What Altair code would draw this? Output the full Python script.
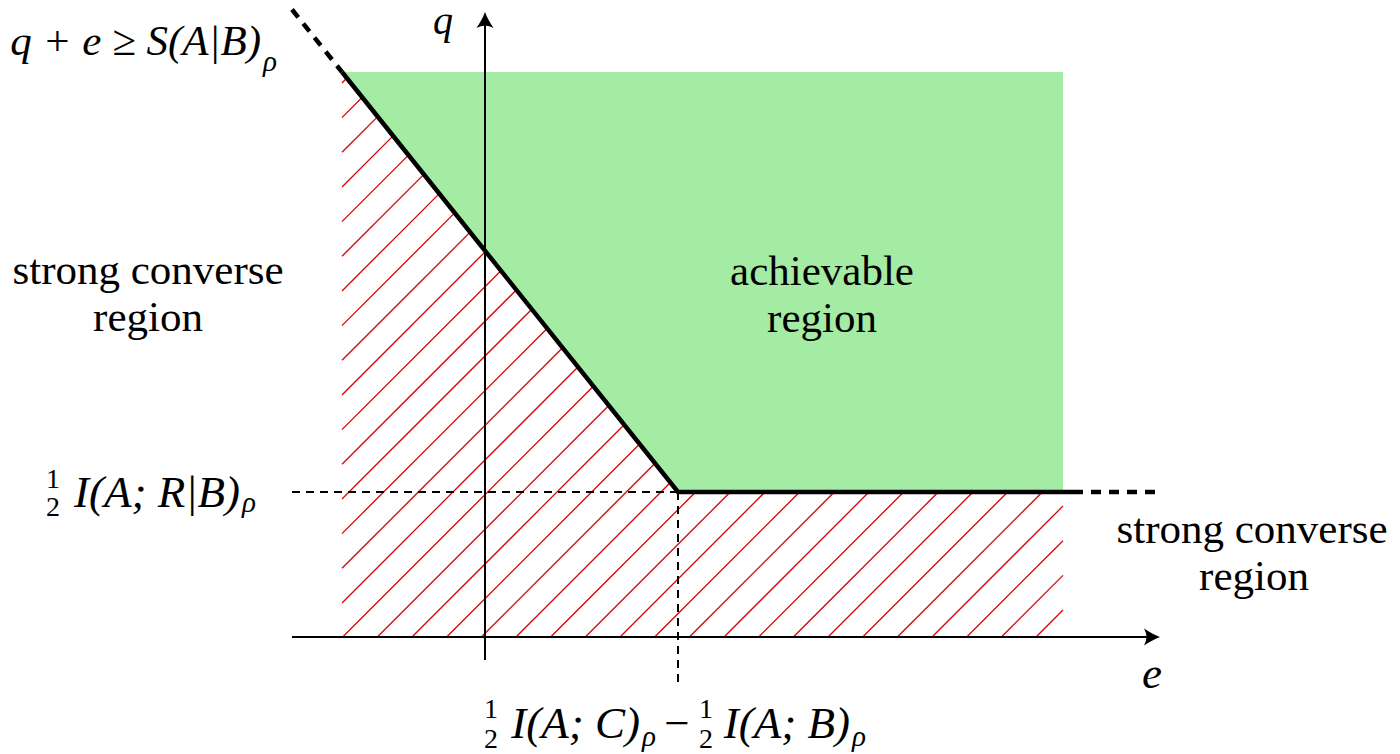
import altair as alt
import pandas as pd

# ---- geometry (e, q units; origin at axes crossing) ----
E_LEFT = -1.43      # left edge of shaded regions
E_KNEE = 1.93       # 1/2 I(A;C) - 1/2 I(A;B)
E_RIGHT = 5.78      # right edge of shaded regions
Q_KNEE = 1.45       # 1/2 I(A;R|B)
Q_TOP = 5.65        # top of shaded regions

# boundary (solid thick)
bound_e = [E_LEFT, E_KNEE, 5.88]
bound_q = [Q_TOP, Q_KNEE, Q_KNEE]
# dashed continuations of boundary
dash_up_e = [-1.93, E_LEFT]
dash_up_q = [6.275, Q_TOP]
dash_rt_e = [5.88, 6.70]
dash_rt_q = [Q_KNEE, Q_KNEE]

# green achievable region (area between boundary and top)
green_e = [E_LEFT, E_KNEE, E_RIGHT]
green_lo = [Q_TOP, Q_KNEE, Q_KNEE]
green_hi = [Q_TOP, Q_TOP, Q_TOP]

# axes
xaxis_e = [-1.93, 6.72]
yaxis_q = [-0.23, 6.20]

# hatch (45 degree lines) : bottom crossings e0 = HATCH_OFF + k*HATCH_STEP
HATCH_OFF = 1.35
HATCH_STEP = 0.3467

W, H = 1384, 746
E_DOM = [(8 - 485) / 100, (8 + W - 485) / 100]
Q_DOM = [(637 - (8 + H)) / 100, (637 - 8) / 100]

xs = alt.Scale(domain=E_DOM, range=[0, W], nice=False, zero=False)
ys = alt.Scale(domain=Q_DOM, range=[H, 0], nice=False, zero=False)

m = (Q_TOP - Q_KNEE) / (E_LEFT - E_KNEE)


def f(e):
    return Q_KNEE + m * (e - E_KNEE) if e < E_KNEE else Q_KNEE


segs = []
for k in range(-30, 20):
    e0 = HATCH_OFF + k * HATCH_STEP
    es = max(E_LEFT, e0)
    qs = es - e0
    if qs >= f(es):
        continue
    ie = Q_KNEE + e0
    if ie < E_KNEE:
        ie = (Q_KNEE + e0 - m * E_KNEE) / (1 - m)
    ee = min(E_RIGHT, ie)
    if ee <= es:
        continue
    segs.append({"e1": es, "q1": qs, "e2": ee, "q2": ee - e0})
hatch_df = pd.DataFrame(segs)


def X(field):
    return alt.X(field, type="quantitative", scale=xs, axis=None)


def Y(field):
    return alt.Y(field, type="quantitative", scale=ys, axis=None)


green = alt.Chart(pd.DataFrame({"e": green_e, "lo": green_lo, "hi": green_hi})).mark_area(
    color="#a4eba4", opacity=1
).encode(x=X("e"), y=Y("lo"), y2="hi")

hatch = alt.Chart(hatch_df).mark_rule(color="#dd0000", strokeWidth=1.3).encode(
    x=X("e1"), y=Y("q1"), x2="e2", y2="q2"
)

thin_dash = alt.Chart(pd.DataFrame({
    "e1": [-1.93, E_KNEE], "q1": [Q_KNEE, Q_KNEE],
    "e2": [E_KNEE, E_KNEE], "q2": [Q_KNEE, -0.51],
})).mark_rule(color="black", strokeWidth=2, strokeDash=[8, 6]).encode(
    x=X("e1"), y=Y("q1"), x2="e2", y2="q2"
)

axes = alt.Chart(pd.DataFrame({
    "e1": [xaxis_e[0], 0.0], "q1": [0.0, yaxis_q[0]],
    "e2": [xaxis_e[1], 0.0], "q2": [0.0, yaxis_q[1]],
})).mark_rule(color="black", strokeWidth=2).encode(
    x=X("e1"), y=Y("q1"), x2="e2", y2="q2"
)

ARROW = "M0,0 Q-0.7,-0.25 -1.6,-0.85 Q-1.1,0 -1.6,0.85 Q-0.7,0.25 0,0 Z"
arrows = alt.Chart(pd.DataFrame({
    "e": [6.75, 0.0], "q": [0.0, 6.25], "ang": [0, 270]
})).mark_point(shape=ARROW, filled=True, color="black", size=400, opacity=1).encode(
    x=X("e"), y=Y("q"), angle=alt.Angle("ang:Q", scale=None)
)

boundary = alt.Chart(pd.DataFrame({"e": bound_e, "q": bound_q, "o": [0, 1, 2]})).mark_line(
    color="black", strokeWidth=4.5, strokeJoin="miter"
).encode(x=X("e"), y=Y("q"), order="o:O")

dash_up = alt.Chart(pd.DataFrame({"e": dash_up_e, "q": dash_up_q})).mark_line(
    color="black", strokeWidth=4.5, strokeDash=[10, 8]
).encode(x=X("e"), y=Y("q"))

dash_rt = alt.Chart(pd.DataFrame({"e": dash_rt_e, "q": dash_rt_q})).mark_line(
    color="black", strokeWidth=4.5, strokeDash=[10, 8]
).encode(x=X("e"), y=Y("q"))


def px(xp):
    return (xp - 485) / 100


def py(yp):
    return (637 - yp) / 100


FONT = "Liberation Serif"


def text_layer(items, align, style="normal"):
    df = pd.DataFrame(items)
    return alt.Chart(df).mark_text(
        font=FONT, align=align, baseline="alphabetic", fontStyle=style, color="black"
    ).encode(
        x=X("e"), y=Y("q"), text="t:N", size=alt.Size("s:Q", scale=None, legend=None)
    )


TXT = 43
MATH = 45
FR = 28
SUB = 29

# plain text labels (center aligned)
plain = [
    {"t": "strong converse", "e": px(148), "q": py(284), "s": TXT},
    {"t": "region", "e": px(148), "q": py(331), "s": TXT},
    {"t": "achievable", "e": px(822), "q": py(285), "s": TXT},
    {"t": "region", "e": px(822), "q": py(332), "s": TXT},
    {"t": "strong converse", "e": px(1252), "q": py(543), "s": TXT},
    {"t": "region", "e": px(1254), "q": py(590), "s": TXT},
    {"t": "1", "e": px(53), "q": py(488), "s": FR},
    {"t": "2", "e": px(53), "q": py(516), "s": FR},
    {"t": "1", "e": px(491), "q": py(718), "s": FR},
    {"t": "2", "e": px(491), "q": py(748), "s": FR},
    {"t": "1", "e": px(706), "q": py(718), "s": FR},
    {"t": "2", "e": px(706), "q": py(748), "s": FR},
    {"t": "\u2212", "e": px(677), "q": py(738), "s": MATH},
]
math_right = [
    {"t": "q + e \u2265 S(A|B)", "e": px(261), "q": py(55), "s": 43},
    {"t": "I(A; R|B)", "e": px(240), "q": py(507), "s": MATH},
    {"t": "I(A; C)", "e": px(640), "q": py(738), "s": MATH},
    {"t": "I(A; B)", "e": px(850), "q": py(738), "s": MATH},
]
math_left = [
    {"t": "\u03c1", "e": px(263), "q": py(71), "s": SUB},
    {"t": "\u03c1", "e": px(242), "q": py(512), "s": SUB},
    {"t": "\u03c1", "e": px(642), "q": py(746), "s": SUB},
    {"t": "\u03c1", "e": px(852), "q": py(746), "s": SUB},
]
math_center = [
    {"t": "q", "e": px(443), "q": py(34), "s": 40},
    {"t": "e", "e": px(1152), "q": py(688), "s": MATH},
]

chart = alt.layer(
    green,
    hatch,
    thin_dash,
    axes,
    boundary,
    dash_up,
    dash_rt,
    arrows,
    text_layer(plain, "center"),
    text_layer(math_right, "right", "italic"),
    text_layer(math_left, "left", "italic"),
    text_layer(math_center, "center", "italic"),
).properties(
    width=W, height=H, padding=0, autosize=alt.AutoSizeParams(type="none")
).configure_view(stroke=None)

chart.save("out.html", embed_options={"renderer": "svg", "actions": False})
